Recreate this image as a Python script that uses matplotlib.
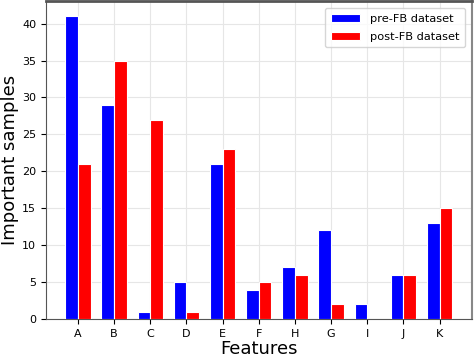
import numpy as np
import matplotlib.pyplot as plt

features = ['A', 'B', 'C', 'D', 'E', 'F', 'H', 'G', 'I', 'J', 'K']
pre_fb = [41, 29, 1, 5, 21, 4, 7, 12, 2, 6, 13]
post_fb = [21, 35, 27, 1, 23, 5, 6, 2, 0, 6, 15]

x = np.arange(len(features))
w = 0.35

fig, ax = plt.subplots(figsize=(4.74, 3.61), dpi=100)
ax.bar(x - w / 2, pre_fb, w, color='blue', edgecolor='white', linewidth=0.8, label='pre-FB dataset', zorder=3)
ax.bar(x + w / 2, post_fb, w, color='red', edgecolor='white', linewidth=0.8, label='post-FB dataset', zorder=3)

ax.set_xticks(x)
ax.set_xticklabels(features, fontsize=8)
ax.set_yticks(range(0, 45, 5))
ax.tick_params(axis='y', labelsize=8)
ax.set_xlabel('Features', fontsize=13, labelpad=1)
ax.set_ylabel('Important samples', fontsize=13, labelpad=2)
ax.grid(True, color='#e6e6e6', linewidth=0.8, zorder=0)
for s in ax.spines.values():
    s.set_color('#555555')
ax.spines['top'].set_linewidth(2)
ax.spines['right'].set_color('#888888')
ax.spines['right'].set_linewidth(1.5)

ax.legend(loc='upper right', fontsize=8.2, handlelength=2.6, labelspacing=0.7,
          borderpad=0.5, borderaxespad=0.6)

plt.subplots_adjust(left=0.097, right=0.995, top=0.997, bottom=0.116)
plt.savefig('out.png', dpi=100)
